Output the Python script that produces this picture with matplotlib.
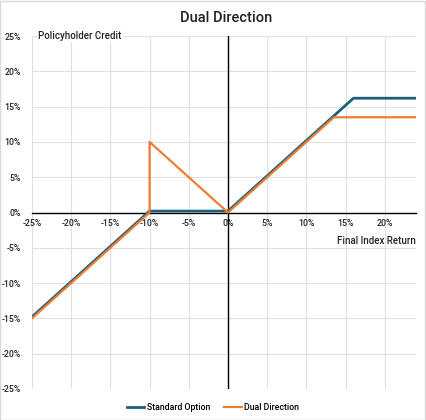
import matplotlib.pyplot as plt
from matplotlib.ticker import FuncFormatter

plt.rcParams['font.family'] = ['Roboto', 'DejaVu Sans']

# final index return (%) and policyholder credit (%)
std_x = [-25, -10, 0, 16, 24]
std_y = [-14.8, 0.2, 0.2, 16.2, 16.2]
dual_x = [-25, -10, -10, 0, 13.5, 24]
dual_y = [-15, 0, 10, 0, 13.5, 13.5]

blue = "#1d5f7d"
orange = "#ed7d31"

fig = plt.figure(figsize=(4.26, 4.2), dpi=100)
ax = fig.add_axes([0.075, 0.074, 0.902, 0.840])

ax.plot(std_x, std_y, color=blue, lw=2.0, label="Standard Option", zorder=3)
ax.plot(dual_x, dual_y, color=orange, lw=1.6, label="Dual Direction", zorder=4)

ax.set_xlim(-25, 24)
ax.set_ylim(-25, 25)
ax.set_xticks(range(-25, 21, 5))
ax.set_yticks(range(-25, 26, 5))
pct = FuncFormatter(lambda v, p: "{:d}%".format(int(v)))
ax.xaxis.set_major_formatter(pct)
ax.yaxis.set_major_formatter(pct)
ax.grid(color="#e0e0e0", lw=0.8, zorder=0)

for s in ["top", "right", "left"]:
    ax.spines[s].set_visible(False)
ax.spines["bottom"].set_position(("data", 0))
ax.spines["bottom"].set_color("black")
ax.spines["bottom"].set_linewidth(1.0)
ax.spines["bottom"].set_zorder(2)
ax.axvline(0, color="black", lw=1.0, zorder=2)
ax.tick_params(length=0, labelsize=6.3, labelcolor="#222222")
for lbl in ax.get_xticklabels() + ax.get_yticklabels():
    lbl.set_fontweight("medium")
ax.tick_params(axis="x", pad=5)
ax.tick_params(axis="y", pad=8)

ax.text(-24.2, 25, "Policyholder Credit", fontsize=7, fontweight="medium",
        va="center", ha="left", color="#222222",
        bbox=dict(facecolor="white", edgecolor="none", pad=1))
ax.text(24, -4.0, "Final Index Return", fontsize=7, fontweight="medium",
        ha="right", va="center", color="#222222")

fig.text(0.53, 0.958, "Dual Direction", ha="center", va="center",
         fontsize=10.5, fontweight="medium", color="#222222")

leg = fig.legend(loc="center", bbox_to_anchor=(0.5, 0.03), ncol=2, frameon=False,
                 prop={"size": 6.3, "weight": "medium"}, handlelength=2.0,
                 columnspacing=1.6, handletextpad=0.3)

fig.patches.append(plt.Rectangle((0.001, 0.001), 0.997, 0.997, transform=fig.transFigure,
                                 fill=False, edgecolor="#d9d9d9", lw=1))
fig.savefig("out.png", dpi=100)
